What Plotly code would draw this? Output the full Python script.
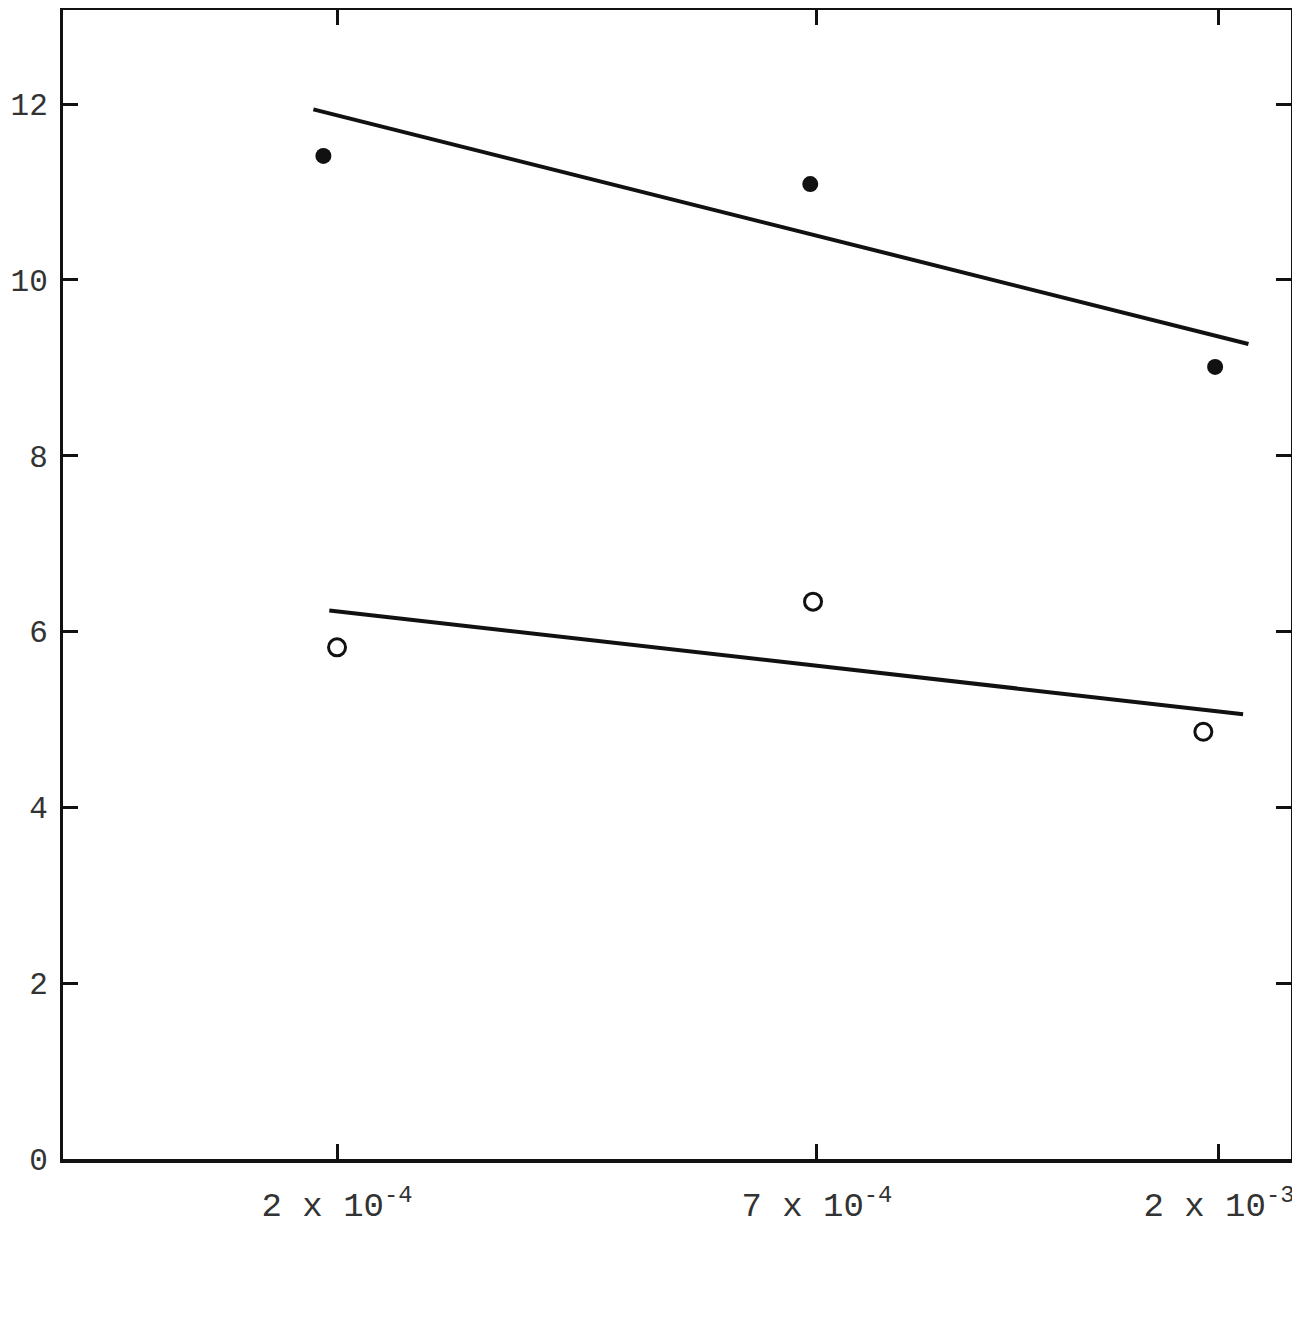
import plotly.graph_objects as go

# ---- data ----
x_tick_vals = [2e-4, 7e-4, 2e-3]
x_tick_text = ["2 x 10<sup>-4</sup>", "7 x 10<sup>-4</sup>", "2 x 10<sup>-3</sup>"]
y_tick_vals = [0, 2, 4, 6, 8, 10, 12]

filled_x = [1.93e-4, 6.88e-4, 1.98e-3]
filled_y = [11.41, 11.09, 9.01]

open_x = [2.0e-4, 6.93e-4, 1.92e-3]
open_y = [5.82, 6.34, 4.86]

fit_upper_x = [1.88e-4, 2.16e-3]
fit_upper_y = [11.94, 9.27]

fit_lower_x = [1.96e-4, 2.13e-3]
fit_lower_y = [6.24, 5.06]

fig = go.Figure()

fig.add_trace(go.Scatter(x=fit_upper_x, y=fit_upper_y, mode="lines",
                         line=dict(color="#111111", width=4), showlegend=False))
fig.add_trace(go.Scatter(x=fit_lower_x, y=fit_lower_y, mode="lines",
                         line=dict(color="#111111", width=4), showlegend=False))
fig.add_trace(go.Scatter(x=filled_x, y=filled_y, mode="markers",
                         marker=dict(symbol="circle", size=16, color="#111111"),
                         showlegend=False))
fig.add_trace(go.Scatter(x=open_x, y=open_y, mode="markers",
                         marker=dict(symbol="circle-open", size=17, color="#111111",
                                     line=dict(width=3, color="#111111")),
                         showlegend=False))

x_font = dict(family="Liberation Mono, Courier New, monospace", size=34, color="#333333")
y_font = dict(family="Liberation Mono, Courier New, monospace", size=31, color="#333333")

fig.update_xaxes(type="log", range=[-4.0097, -2.6173],
                 tickvals=x_tick_vals, ticktext=x_tick_text,
                 ticks="inside", ticklen=15, tickwidth=3, tickcolor="#111111",
                 showline=True, linewidth=4, linecolor="#111111", mirror="ticks",
                 showgrid=False, zeroline=False, tickfont=x_font,
                 ticklabelstandoff=12, automargin=False)
fig.update_yaxes(range=[0, 13.07], tickvals=y_tick_vals,
                 ticks="inside", ticklen=15, tickwidth=3, tickcolor="#111111",
                 showline=True, linewidth=3, linecolor="#111111", mirror="ticks",
                 showgrid=False, zeroline=False, tickfont=y_font,
                 ticklabelstandoff=6, automargin=False)

fig.update_layout(width=1300, height=1322,
                  margin=dict(l=55, r=17, t=2, b=171),
                  paper_bgcolor="white", plot_bgcolor="white",
                  showlegend=False)

fig.write_html("out.html")
